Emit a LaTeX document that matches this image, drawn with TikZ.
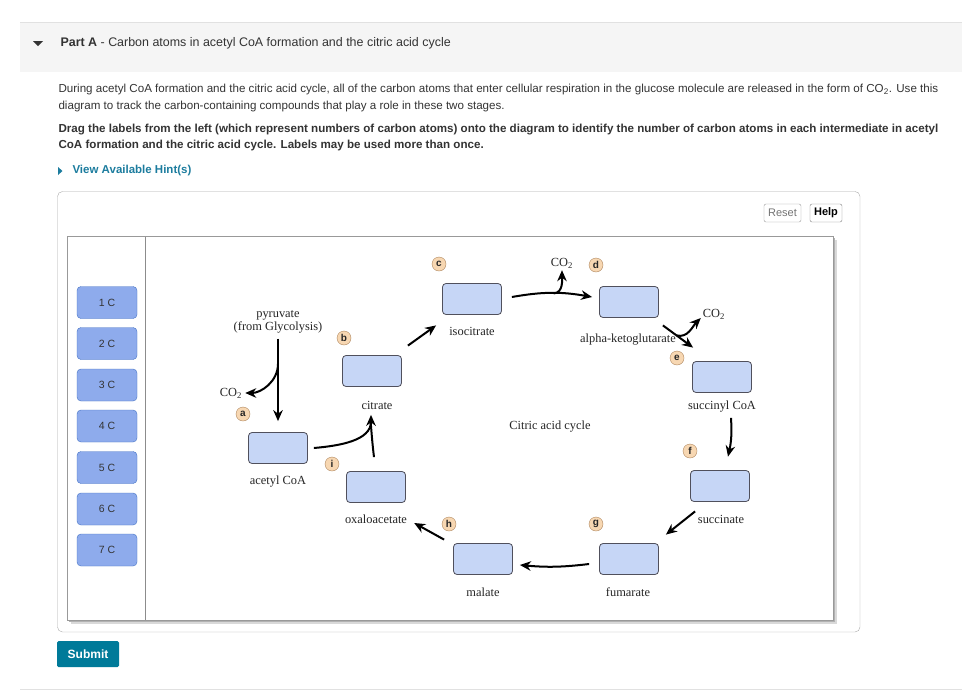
\documentclass[tikz,border=0pt]{standalone}
\usepackage{fontspec}
\setmainfont{Liberation Sans}
\newfontfamily\dgserif{Liberation Serif}
\usetikzlibrary{positioning, arrows.meta, calc}
\definecolor{headbg}{RGB}{245,245,245}
\definecolor{rulegray}{RGB}{225,225,225}
\definecolor{framegray}{RGB}{170,170,170}
\definecolor{textgray}{RGB}{51,51,51}
\definecolor{hintteal}{RGB}{28,124,158}
\definecolor{submitteal}{RGB}{0,122,153}
\definecolor{tilefill}{RGB}{142,171,236}
\definecolor{tileframe}{RGB}{68,114,196}
\definecolor{dropfill}{RGB}{198,214,246}
\definecolor{dropframe}{RGB}{80,80,92}
\definecolor{dotfill}{RGB}{247,215,178}
\definecolor{dotframe}{RGB}{175,135,95}

\begin{document}
\begin{tikzpicture}[x=1pt, y=1pt,
        tile/.style={draw=tileframe, fill=tilefill, rounded corners=4pt, minimum width=60pt, minimum height=32pt, font=\fontsize{10.5}{12}\selectfont, text=textgray},
        dropbox/.style={draw=dropframe, fill=dropfill, rounded corners=3.5pt, minimum width=59pt, minimum height=31pt, line width=0.8pt},
        cmpd/.style={font=\dgserif\fontsize{12.4}{13}\selectfont, text=black!85, inner sep=1pt, align=center},
        letterdot/.style={circle, draw=dotframe, fill=dotfill, minimum size=14pt, inner sep=0pt, font=\bfseries\fontsize{10}{10}\selectfont, text=black!85},
        btn/.style={draw=gray!80, rounded corners=2pt, minimum height=18pt, inner sep=2pt, font=\fontsize{11}{13}\selectfont},
        arr/.style={-{Stealth[length=11pt, width=9.5pt]}, line width=2pt},
        plain/.style={line width=2pt}
    ]
    \useasboundingbox (0,0) rectangle (962,-691);

    % page header and text
    \fill[headbg] (20,-23) rectangle (962,-72);
    \draw[rulegray] (20,-22.5) -- (962,-22.5);
    \draw[rulegray] (20,-689.5) -- (962,-689.5);
    \fill[textgray] (33,-41) -- (43,-41) -- (38,-46) -- cycle;
    \node[anchor=west, text=textgray, font=\fontsize{12.45}{14}\selectfont] (title) at (57,-43) {\textbf{Part A} - Carbon atoms in acetyl CoA formation and the citric acid cycle};
    \node[anchor=west, align=left, text=textgray, font=\fontsize{11.6}{17}\selectfont] (intro) at (55,-98) {During acetyl CoA formation and the citric acid cycle, all of the carbon atoms that enter cellular respiration in the glucose molecule are released in the form of CO\textsubscript{2}. Use this\\diagram to track the carbon-containing compounds that play a role in these two stages.};
    \node[anchor=west, align=left, text=textgray, font=\bfseries\fontsize{11.6}{16}\selectfont] (task) at (55,-137) {Drag the labels from the left (which represent numbers of carbon atoms) onto the diagram to identify the number of carbon atoms in each intermediate in acetyl\\CoA formation and the citric acid cycle. Labels may be used more than once.};
    \fill[hintteal] (58,-167) -- (62.5,-171) -- (58,-175) -- cycle;
    \node[anchor=west, text=hintteal, font=\bfseries\fontsize{11.5}{13}\selectfont] (hint) at (69,-171) {View Available Hint(s)};

    % frame, buttons and canvas
    \draw[framegray, rounded corners=5pt] (57.5,-191.5) rectangle (860,-632);
    \node[btn, text=gray!90!black, minimum width=37pt] (reset) at (782.5,-213) {Reset};
    \node[btn, draw=gray, minimum width=32pt, font=\bfseries\fontsize{11}{13}\selectfont] (help) at (826,-213) {Help};
    \fill[gray!30] (71,-240) rectangle (837,-624);
    \fill[gray!60] (69,-238) rectangle (835,-622);
    \draw[gray!80, fill=white] (67,-236.5) rectangle (833,-620);
    \draw[gray!90] (145.5,-236.5) -- (145.5,-620);
    \node[fill=submitteal, rounded corners=1.5pt, minimum width=62pt, minimum height=26pt, text=white, font=\bfseries\fontsize{12}{14}\selectfont] (submit) at (88,-654) {Submit};

    % label tiles
    \node[tile] (c1) at (107,-302.5) {1 C};
    \node[tile] (c2) at (107,-343.5) {2 C};
    \node[tile] (c3) at (107,-385) {3 C};
    \node[tile] (c4) at (107,-426) {4 C};
    \node[tile] (c5) at (107,-467.5) {5 C};
    \node[tile] (c6) at (107,-509) {6 C};
    \node[tile] (c7) at (107,-550) {7 C};

    % drop targets
    \node[dropbox] (acoa) at (278,-448) {};
    \node[dropbox] (cit) at (372,-371) {};
    \node[dropbox] (isocit) at (472,-299) {};
    \node[dropbox] (akg) at (629,-302) {};
    \node[dropbox] (succoa) at (722,-377) {};
    \node[dropbox] (succ) at (720,-486) {};
    \node[dropbox] (fum) at (629,-559) {};
    \node[dropbox] (mal) at (483,-559) {};
    \node[dropbox] (oaa) at (376,-487) {};

    % compound names
    \node[cmpd] (pyr) at (278,-322) {pyruvate\\(from Glycolysis)};
    \node[cmpd] (lacoa) at (278,-482) {acetyl CoA};
    \node[cmpd] (lcit) at (377,-405) {citrate};
    \node[cmpd] (liso) at (472,-331) {isocitrate};
    \node[cmpd] (lakg) at (628,-340) {alpha-ketoglutarate};
    \node[cmpd] (lsuccoa) at (722,-407) {succinyl CoA};
    \node[cmpd] (lsucc) at (721,-519) {succinate};
    \node[cmpd] (lfum) at (628,-592) {fumarate};
    \node[cmpd] (lmal) at (483,-592) {malate};
    \node[cmpd] (loaa) at (376,-519) {oxaloacetate};
    \node[cmpd] (cycle) at (550,-427) {Citric acid cycle};
    \node[cmpd] (co2a) at (231,-393) {CO\textsubscript{2}};
    \node[cmpd] (co2d) at (562,-263) {CO\textsubscript{2}};
    \node[cmpd] (co2e) at (714,-314) {CO\textsubscript{2}};

    % letter markers
    \node[letterdot] (ma) at (243,-414) {a};
    \node[letterdot] (mb) at (344,-338) {b};
    \node[letterdot] (mc) at (439,-264) {c};
    \node[letterdot] (md) at (596,-265) {d};
    \node[letterdot] (me) at (677,-358) {e};
    \node[letterdot] (mf) at (690,-451) {f};
    \node[letterdot] (mg) at (596,-524) {g};
    \node[letterdot] (mh) at (449,-524) {h};
    \node[letterdot] (mi) at (332,-464) {i};

    % arrows
    \draw[arr, shorten <=4pt, shorten >=11pt] (pyr.south) -- (acoa.north);
    \coordinate (pyrfork) at ($(pyr.south)!0.3!(acoa.north)$);
    \draw[arr, shorten >=2pt] (pyrfork) to[out=-90, in=0] (co2a.east);

    \draw[arr] ([xshift=6pt]acoa.east) to[out=5, in=-90] ([shift={(-6,-4.5)}]lcit.south);
    \draw[plain] ([shift={(-2,14)}]oaa.north) to[out=97, in=-85] ([shift={(-6.5,-10)}]lcit.south);

    \draw[arr] ([shift={(6,9.5)}]cit.north east) -- ([shift={(-6,-10.5)}]isocit.south west);

    \coordinate (isoout) at ([shift={(10,2)}]isocit.east);
    \coordinate (akgin) at ([shift={(-7,5)}]akg.west);
    \draw[arr] (isoout) to[bend left=10] (akgin);
    \coordinate (isofork) at ($(isoout)!0.52!(akgin)+(0,3.5)$);
    \draw[arr, shorten >=1pt] (isofork) to[out=5, in=-90] (co2d.south);

    \coordinate (akgout) at ([shift={(4,-7.5)}]akg.south east);
    \coordinate (succin) at ([shift={(1,13.5)}]succoa.north west);
    \draw[arr] (akgout) -- (succin);
    \draw[arr] ($(akgout)!0.45!(succin)$) to[out=-15, in=-135] ([shift={(-1,-4)}]co2e.west);

    \draw[arr] ([shift={(9,-4)}]lsuccoa.south) to[bend left=8] ([shift={(8,13.5)}]succ.north);
    \draw[arr] ([shift={(5,-9.5)}]succ.south west) -- ([shift={(7,8.5)}]fum.north east);
    \draw[arr] ([shift={(-10,-5)}]fum.west) to[bend left=6] ([shift={(7,-6)}]mal.east);
    \draw[arr] ([shift={(-9,3.5)}]mal.north west) -- ([shift={(6,-4)}]loaa.east);

\end{tikzpicture}
\end{document}
